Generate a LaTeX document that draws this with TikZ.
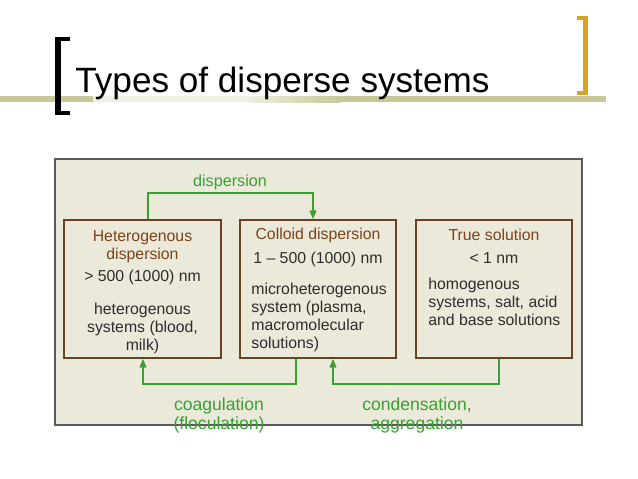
\documentclass[tikz,border=0pt]{standalone}
\usepackage{fontspec}
\setmainfont{Liberation Sans}
\usetikzlibrary{arrows.meta, calc}
\definecolor{framebg}{RGB}{235,233,218}
\definecolor{boxbrown}{RGB}{104,66,34}
\definecolor{headbrown}{RGB}{122,68,24}
\definecolor{bodygray}{RGB}{45,45,45}
\definecolor{flowgreen}{RGB}{58,160,50}
\definecolor{olivebar}{RGB}{200,200,152}
\definecolor{palebar}{RGB}{238,238,226}
\definecolor{goldbr}{RGB}{214,164,34}
\tikzset{
    typebox/.style={
        draw=boxbrown,
        line width=1.1pt,
        minimum width=31.3mm,
        minimum height=27.6mm,
        inner sep=0pt
    },
    headtext/.style={
        font=\fontsize{9}{10.8}\selectfont,
        text=headbrown,
        align=center,
        anchor=base,
        inner sep=0pt
    },
    bodytext/.style={
        font=\fontsize{9}{10.4}\selectfont,
        text=bodygray,
        anchor=base,
        inner sep=0pt
    },
    flow/.style={draw=flowgreen, line width=1.1pt, -{Straight Barb[length=3.5pt, width=3pt]}},
    flowlabel/.style={text=flowgreen, font=\fontsize{10}{11}\selectfont, align=center, anchor=base, inner sep=0pt}
}

\begin{document}
\begin{tikzpicture}[
    x=0.2mm, y=-0.2mm
]
\useasboundingbox (0,0) rectangle (638,479);

% title bar
\fill[olivebar] (0,96.5) rectangle (93,102.5);
\fill[palebar] (93,96.5) rectangle (250,102.5);
\shade[left color=palebar, right color=olivebar] (250,96.5) rectangle (340,102.5);
\fill[olivebar] (340,96.5) rectangle (606,102.5);

% brackets
\fill[black] (55,37) rectangle (61,115);
\fill[black] (55,37) rectangle (70,41);
\fill[black] (55,111) rectangle (70,115);
\fill[goldbr] (583,16.5) rectangle (588,95.5);
\fill[goldbr] (577,16.5) rectangle (588,20.5);
\fill[goldbr] (577,91.5) rectangle (588,95.5);

\node[anchor=base west, inner sep=0pt, font=\fontsize{20}{24}\selectfont] (title) at (75,93) {Types of disperse systems};

% frame
\draw[draw=black!65, fill=framebg, line width=0.8pt] (55,159) rectangle (582,425);

% the three boxes
\node[typebox] (het) at (142.5,289) {};
\node[typebox] (col) at (318,289) {};
\node[typebox] (tru) at (494,289) {};

% heterogenous (base = last line)
\node[headtext] (hethead) at (142.5,260) {Heterogenous\\dispersion};
\node[bodytext] (hetsize) at (142.5,282) {> 500 (1000) nm};
\node[bodytext, align=center] (hetbody) at (142.5,351) {heterogenous\\systems (blood,\\milk)};

% colloid
\node[headtext] (colhead) at (318,240) {Colloid dispersion};
\node[bodytext] (colsize) at (318,264) {1 -- 500 (1000) nm};
\node[bodytext, align=left, anchor=base west] (colbody) at (251,349) {microheterogenous\\system (plasma,\\macromolecular\\solutions)};

% true solution
\node[headtext] (truhead) at (494,241) {True solution};
\node[bodytext] (trusize) at (494,264) {< 1 nm};
\node[bodytext, align=left, anchor=base west] (trubody) at (428,326) {homogenous\\systems, salt, acid\\and base solutions};

% transitions
\draw[flow] ($(het.north)+(5.5,0)$) -- ++(0,-26) -| ($(col.north)+(-5,0)$);
\draw[flow] ($(col.south)+(-22,0)$) -- ++(0,25) -| ($(het.south)+(0.5,0)$);
\draw[flow] ($(tru.south)+(5,0)$) -- ++(0,25) -| ($(col.south)+(15,0)$);

\node[flowlabel, font=\fontsize{9.2}{10}\selectfont] (displabel) at (230,187) {dispersion};
\node[flowlabel] (coaglabel) at (219,430) {coagulation\\(floculation)};
\node[flowlabel] (condlabel) at (417,430) {condensation,\\aggregation};

\end{tikzpicture}
\end{document}
